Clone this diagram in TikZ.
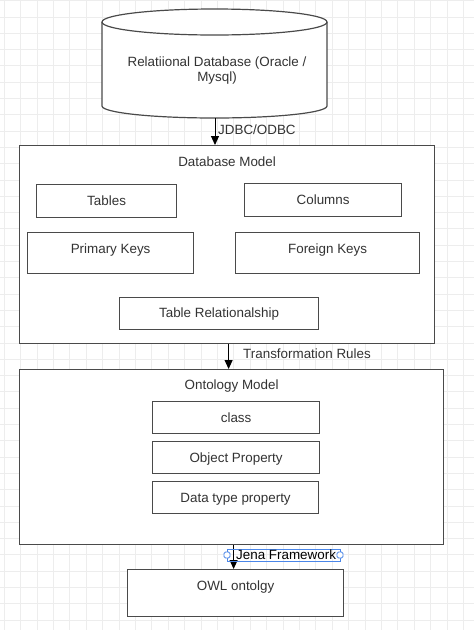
\documentclass[tikz,border=0pt]{standalone}
\usepackage{fontspec}
\setmainfont{Liberation Sans}
\usetikzlibrary{arrows.meta}
\definecolor{gridc}{HTML}{EDEDED}
\definecolor{linec}{HTML}{4A4A4A}
\definecolor{textc}{HTML}{333333}
\definecolor{selc}{HTML}{4A86E8}
\tikzset{
  box/.style={draw=linec, line width=1.2pt, fill=white, inner sep=0pt, anchor=north west, text=textc, align=center},
  lbl/.style={inner sep=0pt, anchor=base west, text=textc},
  arr/.style={draw=black, line width=1pt, -{Triangle[width=8pt,length=9pt]}},
  handle/.style={draw=selc, fill=white, line width=0.8pt, rounded corners=1.5pt, minimum size=6pt, inner sep=0pt}
}
\begin{document}
\begin{tikzpicture}[x=1pt,y=-1pt, font=\fontsize{13.4}{15}\selectfont]
\useasboundingbox (0,0) rectangle (474,630);
\fill[white] (0,0) rectangle (474,630);
% background grid
\foreach \gx in {4,20.4,...,474} {\draw[gridc, line width=0.6pt] (\gx,0) -- (\gx,630);}
\foreach \gy in {0.5,16.8,...,630} {\draw[gridc, line width=0.6pt] (0,\gy) -- (474,\gy);}

% cylinder
\filldraw[draw=linec, fill=white, line width=1.2pt]
  (102,22) -- (102,106) arc[start angle=180, end angle=0, x radius=112.5, y radius=12] -- (327,22)
  arc[start angle=0, end angle=-180, x radius=112.5, y radius=13];
\draw[linec, line width=1.2pt] (102,22) arc[start angle=180, end angle=0, x radius=112.5, y radius=13];
\node[text=textc, align=center, inner sep=0pt] (rdb) at (217,71) {Relatiional Database (Oracle /\\Mysql)};
\coordinate (cylbot) at (215,118);

% Database model container
\node[box, minimum width=415pt, text height=20.8pt, text depth=177.2pt] (dbm) at (19,145) {Database Model};
\node[box, minimum width=140pt, text height=20.8pt, text depth=12.2pt] (tables) at (36,184) {Tables};
\node[box, minimum width=157pt, text height=20.8pt, text depth=12.2pt] (columns) at (244,183) {Columns};
\node[box, minimum width=166pt, text height=20.8pt, text depth=20.2pt] (pk) at (27,232) {Primary Keys};
\node[box, minimum width=184pt, text height=20.8pt, text depth=20.2pt] (fk) at (235,232) {Foreign Keys};
\node[box, minimum width=199pt, text height=19.8pt, text depth=12.2pt] (trel) at (119,297) {Table Relationalship};

% Ontology model container
\node[box, minimum width=424pt, text height=19.8pt, text depth=155.2pt] (ont) at (19,369) {Ontology Model};
\node[box, minimum width=167pt, text height=20.8pt, text depth=11.2pt] (cls) at (152,401) {class};
\node[box, minimum width=167pt, text height=20.8pt, text depth=11.2pt] (objp) at (152,441) {Object Property};
\node[box, minimum width=166pt, text height=20.8pt, text depth=11.2pt] (datp) at (152,481) {Data type property};

% OWL box
\node[box, minimum width=216pt, text height=20.8pt, text depth=26.2pt] (owl) at (127,569) {OWL ontolgy};

% connectors
\draw[arr] (cylbot) -- (cylbot |- dbm.north);
\draw[arr] ([xshift=1.5pt]dbm.south) -- ([xshift=1.5pt]dbm.south |- ont.north);
\draw[arr] ([xshift=2pt]ont.south) -- ([xshift=2pt]ont.south |- owl.north);

% labels
\node[lbl] (jdbc) at (218,134.8) {JDBC/ODBC};
\node[lbl] (trules) at (243,358.8) {Transformation Rules};
\draw[selc, line width=0.8pt] (227,549) rectangle (340,561);
\node[handle] (hl) at (227,555) {};
\node[handle] (hr) at (340,555) {};
\node[lbl, text=black] (jena) at (236,559.8) {Jena Framework};
\end{tikzpicture}
\end{document}
